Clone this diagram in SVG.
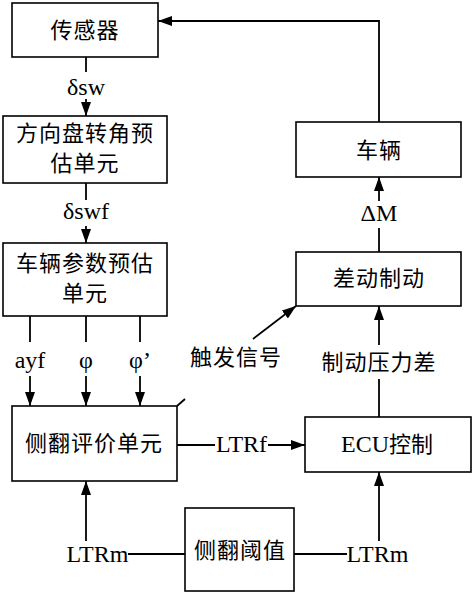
<svg xmlns="http://www.w3.org/2000/svg" width="474" height="594" viewBox="0 0 474 594">
<style>
.box{fill:#fff;stroke:#000;stroke-width:1.6}
.cn{font-family:"Noto Sans CJK SC","Liberation Serif",serif;font-size:22px;fill:#000;text-anchor:middle}
.lt{font-family:"Liberation Serif",serif;font-size:24px;fill:#000;text-anchor:middle}
.ln{fill:none;stroke:#000;stroke-width:1.8}
</style>
<defs>
<marker id="ah" markerUnits="userSpaceOnUse" markerWidth="14" markerHeight="10" refX="14" refY="5" orient="auto">
<path d="M0,0 L14,5 L0,10 z" fill="#000"/>
</marker>
</defs>
<rect width="474" height="594" fill="#fff"/>
<g id="sensor"><rect class="box" x="12" y="3" width="146" height="54"/><text class="cn" x="85" y="38" letter-spacing="1">传感器</text></g>
<g id="steer"><rect class="box" x="3" y="116" width="164" height="67"/><text class="cn" x="85" y="141" letter-spacing="1">方向盘转角预</text><text class="cn" x="85" y="171" letter-spacing="1">估单元</text></g>
<g id="param"><rect class="box" x="3" y="243" width="164" height="73"/><text class="cn" x="85" y="271" letter-spacing="1">车辆参数预估</text><text class="cn" x="85" y="301" letter-spacing="1">单元</text></g>
<g id="eval"><rect class="box" x="12" y="406" width="165" height="75"/><text class="cn" x="94" y="451" letter-spacing="1">侧翻评价单元</text></g>
<g id="threshold"><rect class="box" x="185" y="508" width="109" height="83"/><text class="cn" x="240" y="558" letter-spacing="1">侧翻阈值</text></g>
<g id="car"><rect class="box" x="296" y="122" width="165" height="55"/><text class="cn" x="379" y="158" letter-spacing="1">车辆</text></g>
<g id="diff"><rect class="box" x="296" y="252" width="165" height="54"/><text class="cn" x="379" y="286" letter-spacing="1">差动制动</text></g>
<g id="ecu"><rect class="box" x="305" y="417" width="166" height="55"/><text x="387" y="452" text-anchor="middle" fill="#000"><tspan font-family="Liberation Serif,serif" font-size="24">ECU</tspan><tspan font-family="Noto Sans CJK SC,sans-serif" font-size="22">控制</tspan></text></g>
<g id="connectors">
<path class="ln" d="M379,122 L379,21 L158,21" marker-end="url(#ah)"/>
<path class="ln" d="M86,57 L86,72"/>
<path class="ln" d="M86,99 L86,116" marker-end="url(#ah)"/>
<path class="ln" d="M86,183 L86,200"/>
<path class="ln" d="M86,226 L86,243" marker-end="url(#ah)"/>
<path class="ln" d="M30,316 L30,342 M86,316 L86,342 M140,316 L140,342"/>
<path class="ln" d="M30,376 L30,406" marker-end="url(#ah)"/>
<path class="ln" d="M86,376 L86,406" marker-end="url(#ah)"/>
<path class="ln" d="M140,376 L140,406" marker-end="url(#ah)"/>
<path class="ln" d="M379,201 L379,177" marker-end="url(#ah)"/>
<path class="ln" d="M379,228 L379,252"/>
<path class="ln" d="M177,406 L185,399"/>
<path class="ln" d="M253,339 L296,306" marker-end="url(#ah)"/>
<path class="ln" d="M379,417 L379,379"/>
<path class="ln" d="M379,345 L379,306" marker-end="url(#ah)"/>
<path class="ln" d="M177,445 L215,445"/>
<path class="ln" d="M268,445 L305,445" marker-end="url(#ah)"/>
<path class="ln" d="M128,554 L185,554 M294,554 L347,554"/>
<path class="ln" d="M86,541 L86,481" marker-end="url(#ah)"/>
<path class="ln" d="M379,541 L379,472" marker-end="url(#ah)"/>
<text class="lt" x="86" y="95">δsw</text>
<text class="lt" x="86" y="219">δswf</text>
<text class="lt" x="379" y="221">ΔM</text>
<text class="lt" x="30" y="368">ayf</text>
<text class="lt" x="86" y="368">φ</text>
<text class="lt" x="140" y="368">φ’</text>
<text class="cn" x="236" y="365" letter-spacing="1">触发信号</text>
<text class="cn" x="379" y="370" letter-spacing="1">制动压力差</text>
<text class="lt" x="241.5" y="452">LTRf</text>
<text class="lt" x="97.5" y="562">LTRm</text>
<text class="lt" x="377.5" y="562">LTRm</text>
</g>
</svg>
